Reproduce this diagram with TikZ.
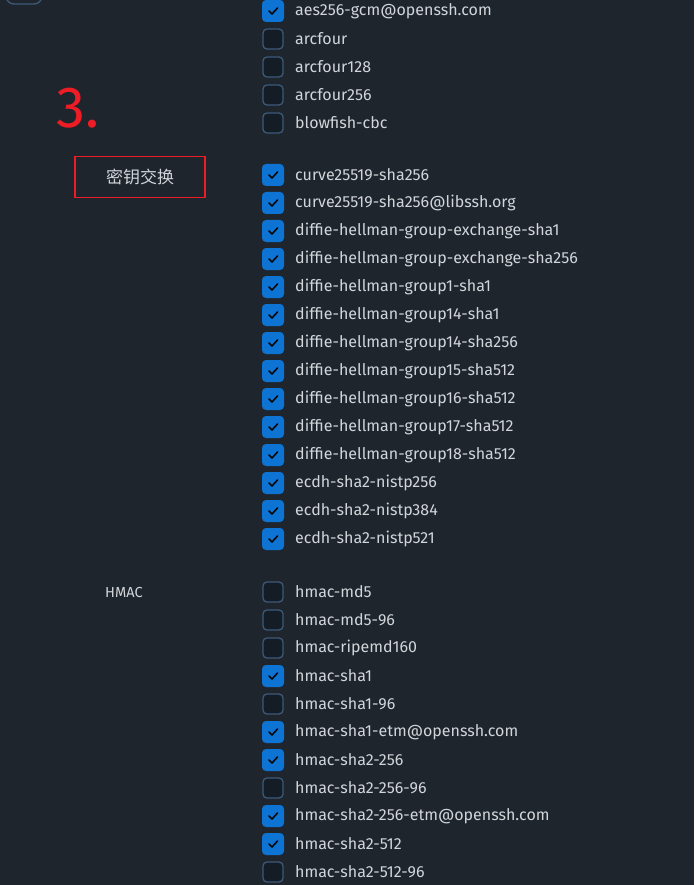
\documentclass[tikz,border=0pt]{standalone}
\usepackage{fontspec}
\setmainfont{Fira Sans}
\newfontfamily\cjk{Noto Sans CJK SC}
\definecolor{bg}{HTML}{1F252D}
\definecolor{ubox}{HTML}{141C26}
\definecolor{uline}{HTML}{3D5A78}
\definecolor{cbox}{HTML}{0E74D4}
\definecolor{txt}{HTML}{D2D6DA}
\definecolor{redc}{HTML}{EE1C25}
\tikzset{
 lbl/.style={anchor=west,text=txt,font=\fontsize{16}{18}\selectfont,inner sep=0},
 unc/.style={draw=uline,line width=1.3pt,fill=ubox,rounded corners=4pt,minimum size=20pt,inner sep=0},
 chk/.style={fill=cbox,rounded corners=4pt,minimum size=22pt,inner sep=0},
}
\newcommand\optrow[3]{%
 \ifnum#1=1 \node[chk] (b#2) at (273,#2) {};
 \draw[black!80!bg,line width=1.6pt,line cap=round,line join=round] ([shift={(-4,0)}]b#2.center) -- ([shift={(-1,3)}]b#2.center) -- ([shift={(4.5,-3)}]b#2.center);
 \else \node[unc] (b#2) at (273,#2) {}; \fi
 \node[lbl] (t#2) at (295,#2) {#3};}
\begin{document}
\begin{tikzpicture}[x=1pt,y=-1pt]
\fill[bg] (0,0) rectangle (694,885);
\useasboundingbox (0,0) rectangle (694,885);
\draw[uline,line width=1.3pt,rounded corners=8pt] (6,-15) rectangle (42,4);
\node[text=redc,font=\fontsize{58}{62}\selectfont,anchor=west,inner sep=0] (three) at (56,108) {3.};
\node[draw=redc,line width=1.5pt,minimum width=130pt,minimum height=41pt,text=txt,font=\cjk\fontsize{17}{19}\selectfont] (kx) at (140,177) {密钥交换};
\node[lbl,font=\fontsize{14.5}{16}\selectfont] (hmac) at (105,592) {HMAC};
\optrow{1}{11}{aes256-gcm@openssh.com}
\optrow{0}{39}{arcfour}
\optrow{0}{67}{arcfour128}
\optrow{0}{95}{arcfour256}
\optrow{0}{123}{blowfish-cbc}
\optrow{1}{175}{curve25519-sha256}
\optrow{1}{203}{curve25519-sha256@libssh.org}
\optrow{1}{231}{diffie-hellman-group-exchange-sha1}
\optrow{1}{259}{diffie-hellman-group-exchange-sha256}
\optrow{1}{287}{diffie-hellman-group1-sha1}
\optrow{1}{315}{diffie-hellman-group14-sha1}
\optrow{1}{343}{diffie-hellman-group14-sha256}
\optrow{1}{371}{diffie-hellman-group15-sha512}
\optrow{1}{399}{diffie-hellman-group16-sha512}
\optrow{1}{427}{diffie-hellman-group17-sha512}
\optrow{1}{455}{diffie-hellman-group18-sha512}
\optrow{1}{483}{ecdh-sha2-nistp256}
\optrow{1}{511}{ecdh-sha2-nistp384}
\optrow{1}{539}{ecdh-sha2-nistp521}
\optrow{0}{592}{hmac-md5}
\optrow{0}{620}{hmac-md5-96}
\optrow{0}{648}{hmac-ripemd160}
\optrow{1}{676}{hmac-sha1}
\optrow{0}{704}{hmac-sha1-96}
\optrow{1}{732}{hmac-sha1-etm@openssh.com}
\optrow{1}{760}{hmac-sha2-256}
\optrow{0}{788}{hmac-sha2-256-96}
\optrow{1}{816}{hmac-sha2-256-etm@openssh.com}
\optrow{1}{844}{hmac-sha2-512}
\optrow{0}{872}{hmac-sha2-512-96}
\end{tikzpicture}
\end{document}
